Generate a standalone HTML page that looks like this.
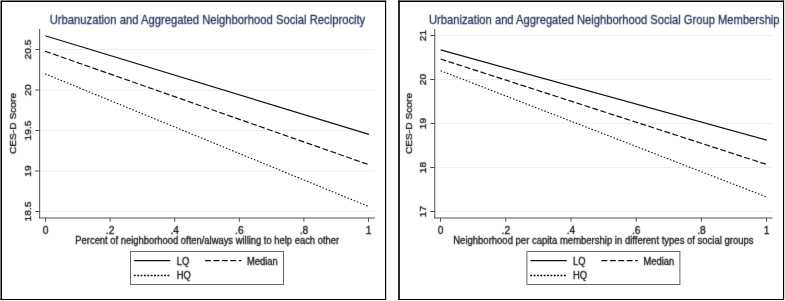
<!DOCTYPE html>
<html><head><meta charset="utf-8"><title>Charts</title>
<style>
html,body{margin:0;padding:0;background:#fff;}
svg{display:block;}
text{font-family:"Liberation Sans",Arial,sans-serif;fill:#111;stroke:#111;stroke-width:0.3px;}
.t{fill:#1b2a55;stroke:#1b2a55;stroke-width:0.25px;}
.gl{stroke:#e8f1f4;stroke-width:1;}
.a{stroke:#3c3c3c;stroke-width:0.9;fill:none;}
.s{stroke:#111;stroke-width:1.2;fill:none;}
.da{stroke-dasharray:5.9 2.5;}
.d{stroke-dasharray:1.6 1.77;stroke-width:1.1;stroke:#1c1c1c;}
.d2{stroke-dasharray:1.9 1.47;stroke-width:1.3;}
.lb{fill:#fff;stroke:#666;stroke-width:1;}
</style></head><body>
<svg width="785" height="301" viewBox="0 0 785 301">
<defs><filter id="soft" x="0" y="0" width="785" height="301" filterUnits="userSpaceOnUse" color-interpolation-filters="sRGB"><feConvolveMatrix order="3" kernelMatrix="0.0113 0.0838 0.0113 0.0838 0.6193 0.0838 0.0113 0.0838 0.0113" edgeMode="duplicate" preserveAlpha="false"/></filter></defs>
<rect x="0" y="0" width="785" height="301" fill="#fff"/>
<g class="gl"><line x1="40.15" x2="374.8" y1="49.5" y2="49.5"/><line x1="40.15" x2="374.8" y1="90" y2="90"/><line x1="40.15" x2="374.8" y1="130.5" y2="130.5"/><line x1="40.15" x2="374.8" y1="171" y2="171"/><line x1="40.15" x2="374.8" y1="211.5" y2="211.5"/></g>
<path class="a" d="M39.65 29V218M35.15 49.5H39.65M35.15 90H39.65M35.15 130.5H39.65M35.15 171H39.65M35.15 211.5H39.65M39.15 218H374.8M45.5 218V221.8M110.1 218V221.8M174.7 218V221.8M239.3 218V221.8M303.9 218V221.8M368.5 218V221.8"/>
<path class="s" d="M45.2 35.7L369 134.4"/>
<path class="s da" d="M45 51.2L368.5 164.6"/>
<path class="s d" d="M45 73.8L368.8 206.6"/>
<rect class="lb" x="130.5" y="251.5" width="153" height="33"/>
<path class="s" d="M134.0 260.6H170.3"/>
<path class="s da" d="M205.1 260.6H241.4"/>
<path class="s d2" d="M133.8 275.5H169.5"/>
<g class="gl"><line x1="435.25" x2="772.5" y1="35.5" y2="35.5"/><line x1="435.25" x2="772.5" y1="79.5" y2="79.5"/><line x1="435.25" x2="772.5" y1="123.5" y2="123.5"/><line x1="435.25" x2="772.5" y1="167.5" y2="167.5"/><line x1="435.25" x2="772.5" y1="211.5" y2="211.5"/></g>
<path class="a" d="M434.75 29V218M430.25 35.5H434.75M430.25 79.5H434.75M430.25 123.5H434.75M430.25 167.5H434.75M430.25 211.5H434.75M434.25 218H772.5M440.6 218V221.8M505.8 218V221.8M571 218V221.8M636.2 218V221.8M701.4 218V221.8M766.6 218V221.8"/>
<path class="s" d="M440.6 49.9L766.8 140.2"/>
<path class="s da" d="M440.6 59L766.6 164.4"/>
<path class="s d" d="M440.6 70.7L766.6 197"/>
<rect class="lb" x="526.9" y="251.5" width="153" height="33"/>
<path class="s" d="M530.4 260.6H566.6999999999999"/>
<path class="s da" d="M601.5 260.6H637.8"/>
<path class="s d2" d="M530.1999999999999 275.5H565.9"/>
<path d="M1.25 0.5V300M0.5 1.25H386.2" stroke="#000" stroke-width="1.5" fill="none"/><path d="M385.6 0.5V300M0.5 299.45H386.2" stroke="#000" stroke-width="1.15" fill="none"/>
<path d="M399 0.5V300" stroke="#222" stroke-width="1.9" fill="none"/><path d="M398.05 1.25H784.1" stroke="#000" stroke-width="1.5" fill="none"/><path d="M783.55 0.5V300M398.05 299.45H784.1" stroke="#000" stroke-width="1.15" fill="none"/>
<g filter="url(#soft)">
<text class="t" font-size="12.94" text-anchor="middle" transform="translate(207.5 24) scale(0.8696 1)">Urbanuzation and Aggregated Neighborhood Social Reciprocity</text>
<text class="r" font-size="9.69" text-anchor="middle" transform="translate(30.849999999999998 49.5) rotate(-90) scale(1.0526 1)">20.5</text>
<text class="r" font-size="9.69" text-anchor="middle" transform="translate(30.849999999999998 90) rotate(-90) scale(1.0526 1)">20</text>
<text class="r" font-size="9.69" text-anchor="middle" transform="translate(30.849999999999998 130.5) rotate(-90) scale(1.0526 1)">19.5</text>
<text class="r" font-size="9.69" text-anchor="middle" transform="translate(30.849999999999998 171) rotate(-90) scale(1.0526 1)">19</text>
<text class="r" font-size="9.69" text-anchor="middle" transform="translate(30.849999999999998 211.5) rotate(-90) scale(1.0526 1)">18.5</text>
<text class="y" font-size="9.69" text-anchor="middle" transform="translate(16.15 123.5) rotate(-90) scale(1.0526 1)">CES-D Score</text>
<text class="k" font-size="10.20" text-anchor="middle" transform="translate(45.5 233.5)">0</text>
<text class="k" font-size="10.20" text-anchor="middle" transform="translate(110.1 233.5)">.2</text>
<text class="k" font-size="10.20" text-anchor="middle" transform="translate(174.7 233.5)">.4</text>
<text class="k" font-size="10.20" text-anchor="middle" transform="translate(239.3 233.5)">.6</text>
<text class="k" font-size="10.20" text-anchor="middle" transform="translate(303.9 233.5)">.8</text>
<text class="k" font-size="10.20" text-anchor="middle" transform="translate(368.5 233.5)">1</text>
<text class="x" font-size="10.25" text-anchor="middle" transform="translate(207.2 243.8) scale(0.9174 1)">Percent of neighborhood often/always willing to help each other</text>
<text class="g" font-size="10.01" text-anchor="start" transform="translate(176.7 264.6) scale(0.9390 1)">LQ</text>
<text class="g" font-size="10.01" text-anchor="start" transform="translate(247.0 264.6) scale(0.9390 1)">Median</text>
<text class="g" font-size="10.01" text-anchor="start" transform="translate(176.7 279.2) scale(0.9390 1)">HQ</text>
<text class="t" font-size="12.88" text-anchor="middle" transform="translate(604.3 24) scale(0.8696 1)">Urbanization and Aggregated Neighborhood Social Group Membership</text>
<text class="r" font-size="9.69" text-anchor="middle" transform="translate(425.95 35.5) rotate(-90) scale(1.0526 1)">21</text>
<text class="r" font-size="9.69" text-anchor="middle" transform="translate(425.95 79.5) rotate(-90) scale(1.0526 1)">20</text>
<text class="r" font-size="9.69" text-anchor="middle" transform="translate(425.95 123.5) rotate(-90) scale(1.0526 1)">19</text>
<text class="r" font-size="9.69" text-anchor="middle" transform="translate(425.95 167.5) rotate(-90) scale(1.0526 1)">18</text>
<text class="r" font-size="9.69" text-anchor="middle" transform="translate(425.95 211.5) rotate(-90) scale(1.0526 1)">17</text>
<text class="y" font-size="9.69" text-anchor="middle" transform="translate(412.45 123.5) rotate(-90) scale(1.0526 1)">CES-D Score</text>
<text class="k" font-size="10.20" text-anchor="middle" transform="translate(440.6 233.5)">0</text>
<text class="k" font-size="10.20" text-anchor="middle" transform="translate(505.8 233.5)">.2</text>
<text class="k" font-size="10.20" text-anchor="middle" transform="translate(571 233.5)">.4</text>
<text class="k" font-size="10.20" text-anchor="middle" transform="translate(636.2 233.5)">.6</text>
<text class="k" font-size="10.20" text-anchor="middle" transform="translate(701.4 233.5)">.8</text>
<text class="k" font-size="10.20" text-anchor="middle" transform="translate(766.6 233.5)">1</text>
<text class="x" font-size="10.36" text-anchor="middle" transform="translate(603.4 243.8) scale(0.9174 1)">Neighborhood per capita membership in different types of social groups</text>
<text class="g" font-size="10.01" text-anchor="start" transform="translate(573.1 264.6) scale(0.9390 1)">LQ</text>
<text class="g" font-size="10.01" text-anchor="start" transform="translate(643.4 264.6) scale(0.9390 1)">Median</text>
<text class="g" font-size="10.01" text-anchor="start" transform="translate(573.1 279.2) scale(0.9390 1)">HQ</text>
</g>
</svg>
</body></html>
